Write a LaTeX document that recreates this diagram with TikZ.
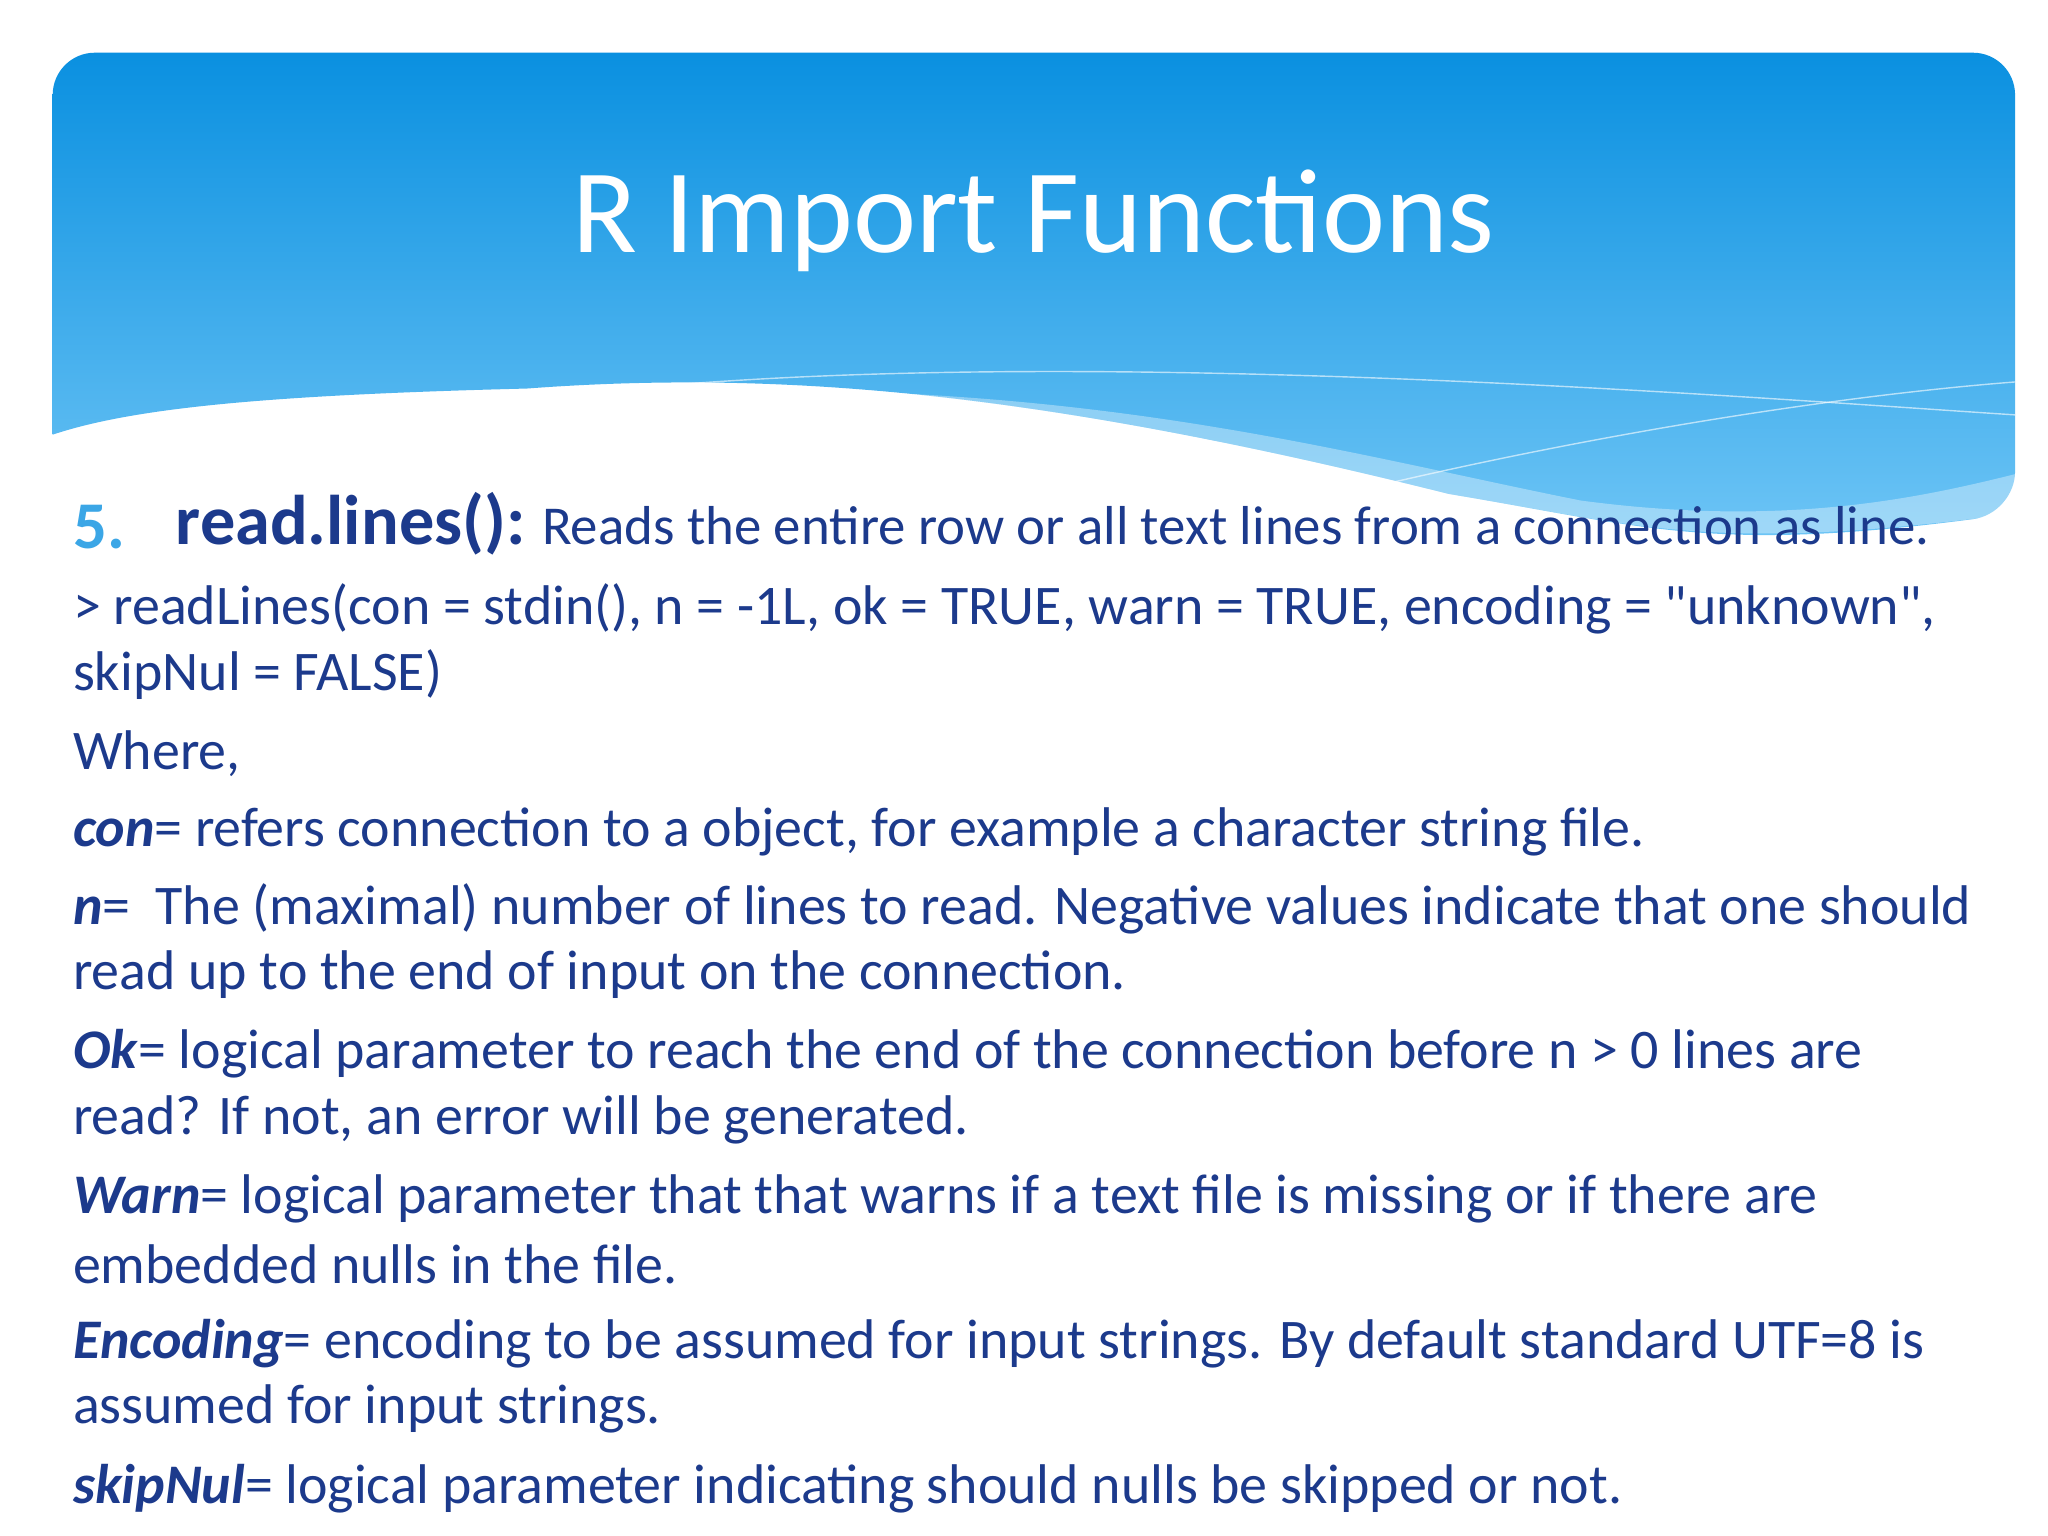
\documentclass[tikz,border=0pt]{standalone}
\usepackage{fontspec}
\setmainfont{Carlito}
\newfontfamily\plainq{Carlito}[Ligatures=TeXOff]
\begin{document}
\begin{tikzpicture}[x=0.01317cm,y=-0.01317cm,
  body/.style={anchor=west,inner sep=0pt,text=txt,font=\fontsize{15.9}{18}\selectfont}]
\definecolor{txt}{HTML}{1C3A8C}
\definecolor{top}{HTML}{0A90E0}
\definecolor{bot}{HTML}{70C6F6}
\useasboundingbox (0,0) rectangle (1555,1166);
\fill[white] (0,0) rectangle (1555,1166);
% header
\shade[top color=top,bottom color=bot,rounded corners=12pt]
  (40,330) -- (40,40) -- (1530,40) -- (1530,390) [sharp corners]
  .. controls (1300,420) and (1250,400) .. (1100,375)
  .. controls (800,300) and (600,280) .. (400,295)
  .. controls (200,300) and (100,310) .. (40,330);
\fill[white,opacity=0.35] (430,300) .. controls (800,280) and (1000,340) .. (1200,380)
  .. controls (1350,400) and (1450,380) .. (1530,360) -- (1530,390)
  .. controls (1300,420) and (1250,400) .. (1100,375)
  .. controls (800,300) and (600,280) .. (430,300);
\draw[white,opacity=0.6] (450,298) .. controls (800,260) and (1300,300) .. (1530,315);
\draw[white,opacity=0.6] (1000,380) .. controls (1200,330) and (1400,300) .. (1530,290);
\node[text=white,font=\fontsize{34}{38}\selectfont] (title) at (785,168) {R Import Functions};
% body
\node[anchor=west,inner sep=0pt,text=top!80!white,font=\bfseries\fontsize{19}{22}\selectfont] (n5) at (55,400) {5.};
\node[anchor=west,inner sep=0pt,text=txt,font=\fontsize{15.6}{20}\selectfont] (l1) at (133,398)
  {{\bfseries\fontsize{20}{22}\selectfont read.lines():} Reads the entire row or all text lines from a connection as line.};
\node[body] (l2) at (55,462) {> readLines(con = stdin(), n = -1L, ok = TRUE, warn = TRUE, encoding = {\plainq "unknown"},};
\node[body] (l3) at (55,512) {skipNul = FALSE)};
\node[body] (l4) at (55,572) {Where,};
\node[body] (l5) at (55,632) {\textbf{\textit{con}}= refers connection to a object, for example a character string file.};
\node[body] (l6) at (55,690) {\textbf{\textit{n}}=\ \ The (maximal) number of lines to read. Negative values indicate that one should};
\node[body] (l7) at (55,740) {read up to the end of input on the connection.};
\node[body] (l8) at (55,800) {\textbf{\textit{Ok}}= logical parameter to reach the end of the connection before n > 0 lines are};
\node[body] (l9) at (55,850) {read? If not, an error will be generated.};
\node[body] (l10) at (55,910) {\textbf{\textit{Warn}}= logical parameter that that warns if a text file is missing or if there are};
\node[body] (l11) at (55,960) {embedded nulls in the file.};
\node[body] (l12) at (55,1020) {\textbf{\textit{Encoding}}= encoding to be assumed for input strings. By default standard UTF=8 is};
\node[body] (l13) at (55,1070) {assumed for input strings.};
\node[body] (l14) at (55,1130) {\textbf{\textit{skipNul}}= logical parameter indicating should nulls be skipped or not.};
\end{tikzpicture}
\end{document}
